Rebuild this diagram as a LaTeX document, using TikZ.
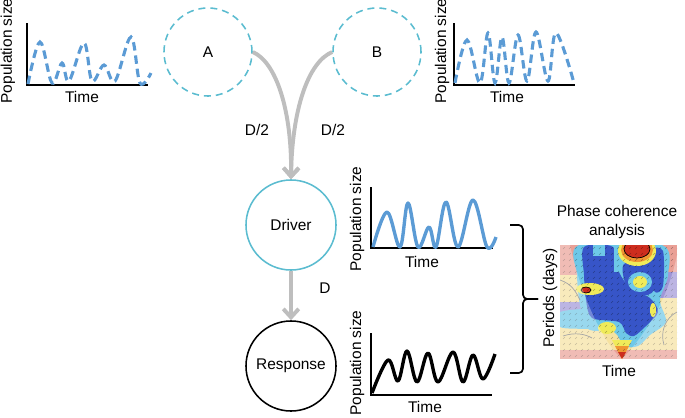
\documentclass[tikz,border=0pt]{standalone}
\usepackage{fontspec}
\setmainfont{Liberation Sans}
\usetikzlibrary{arrows.meta,positioning,calc}

\definecolor{ringblue}{RGB}{91,188,208}
\definecolor{curveblue}{RGB}{91,155,213}
\definecolor{linkgray}{RGB}{190,190,190}
\definecolor{hmsalmon}{RGB}{234,160,150}
\definecolor{hmcream}{RGB}{246,226,160}
\definecolor{hmlav}{RGB}{160,150,215}
\definecolor{hmcyan}{RGB}{110,200,232}
\definecolor{hmblue}{RGB}{55,85,200}
\definecolor{hmred}{RGB}{205,45,30}
\definecolor{hmorange}{RGB}{240,150,50}
\definecolor{hmyellow}{RGB}{240,235,90}

\begin{document}
\begin{tikzpicture}[x=0.025cm,y=-0.025cm,
  font=\fontsize{11}{13.5}\selectfont,
  patch/.style={circle,draw=ringblue,line width=1.1pt,minimum size=2.2cm,dash pattern=on 5pt off 3.5pt},
  species/.style={circle,line width=1.1pt,minimum size=2.25cm},
  link/.style={draw=linkgray,line width=2.8pt,-{Straight Barb[length=6pt,width=11pt]}},
  axisline/.style={draw=black,line width=1.4pt},
  dashcurve/.style={draw=curveblue,line width=2.2pt,dash pattern=on 6pt off 3.5pt},
  solidcurve/.style={line width=2.4pt,line join=round}]
\useasboundingbox (0,0) rectangle (685,417);

% patches and species
\node[patch] (A) at (208,52) {A};
\node[patch] (B) at (377,52) {B};
\node[species,draw=ringblue] (Driver) at (291,225) {Driver};
\node[species,draw=black] (Response) at (291,366) {Response};

% dispersal
\draw[link] (A.east) .. controls (276,62) and (292,110) .. (Driver.north);
\draw[link] (B.west) .. controls (308,62) and (292,110) .. (Driver.north);
\draw[link] (Driver) -- (Response);
\node (dA) at (257,130) {D/2};
\node (dB) at (333,130) {D/2};
\node (dD) at (325,288) {D};

% patch A dynamics
\draw[axisline] (27,23) -- (27,85) -- (148,85);
\draw[dashcurve] plot[smooth,tension=0.6] coordinates {(28,84) (40,42) (52,83) (62,63) (69,81) (84,43) (92,81) (104,65) (115,81) (131,37) (140,83) (151,73)};
\node (tA) at (82,97) {Time};
\node[rotate=90] (pA) at (8,51) {Population size};

% patch B dynamics
\draw[axisline] (454,23) -- (454,85) -- (575,85);
\draw[dashcurve] plot[smooth,tension=0.6] coordinates {(455,83) (467,40) (480,83) (488,33) (495,83) (502,37) (509,83) (518,35) (527,81) (536,32) (548,81) (556,33) (574,83)};
\node (tB) at (507,97) {Time};
\node[rotate=90] (pB) at (442,51) {Population size};

% driver dynamics
\draw[axisline] (371,187) -- (371,248) -- (493,248);
\draw[solidcurve,curveblue] plot[smooth,tension=0.6] coordinates {(373,247) (387,212) (400,247) (408,203) (418,247) (429,227) (436,247) (446,202) (458,247) (473,200) (487,247) (496,237)};
\node (tD) at (422,262) {Time};
\node[rotate=90] (pD) at (357,219) {Population size};

% response dynamics
\draw[axisline] (371,333) -- (371,395) -- (492,395);
\draw[solidcurve,black] plot[smooth,tension=0.6] coordinates {(372,393) (388,360) (398,381) (407,351) (417,382) (428,353) (438,382) (453,352) (463,382) (473,355) (483,379) (495,354)};
\node (tR) at (425,407) {Time};
\node[rotate=90] (pR) at (357,363) {Population size};

% bracket
\coordinate (braceTop) at (510,225);
\coordinate (braceBot) at (510,373);
\coordinate (braceTip) at (538,299);
\draw[line width=1.2pt,rounded corners=3pt] (braceTop) -| (523,299) -- (braceTip);
\draw[line width=1.2pt,rounded corners=3pt] (braceBot) -| (523,299) -- (braceTip);

% wavelet phase coherence
\begin{scope}
\clip (560,245) rectangle (677,359);
\fill[hmsalmon] (560,245) rectangle (677,359);
\fill[hmcream] (560,275) rectangle (677,350);
\fill[hmlav] (560,302) rectangle (595,312);
\fill[hmlav] (650,272) rectangle (677,298);
\fill[hmcyan] plot[smooth cycle] coordinates {(560,312) (600,309) (630,318) (625,331) (590,329) (560,327)};
\fill[hmcyan] plot[smooth cycle] coordinates {(579,245) (662,245) (668,275) (660,300) (666,322) (650,335) (638,346) (624,346) (614,332) (588,329) (580,305) (577,275)};
\fill[hmblue] plot[smooth cycle] coordinates {(584,247) (613,247) (619,272) (632,290) (650,298) (658,312) (646,326) (634,336) (626,333) (619,322) (592,318) (586,300) (584,275)};
\fill[hmblue] plot[smooth cycle] coordinates {(651,250) (663,251) (663,286) (655,292) (649,272)};
\fill[hmblue] plot[smooth cycle] coordinates {(624,264) (650,264) (654,290) (640,296) (626,285)};
\fill[hmcyan] (593,245) rectangle (605,256);
\fill[hmcyan] (614,245) rectangle (622,272);
\fill[hmcyan] (640,282) ellipse [x radius=12,y radius=10];
\fill[hmyellow] (640,282) ellipse [x radius=7,y radius=6];
\fill[hmyellow] (637,251) ellipse [x radius=19,y radius=15];
\fill[hmorange] (637,250) ellipse [x radius=16,y radius=12];
\fill[hmred,draw=black,line width=0.5pt] (637,249) ellipse [x radius=13,y radius=9];
\fill[hmyellow] (590,289) ellipse [x radius=14,y radius=6];
\fill[hmred,draw=black,line width=0.5pt] (586,290) ellipse [x radius=5,y radius=3];
\fill[hmyellow] (607,328) ellipse [x radius=9,y radius=6];
\fill[hmyellow] (653,310) ellipse [x radius=3,y radius=7];
\fill[hmsalmon] (560,350) rectangle (677,359);
\fill[hmyellow] (612,340) -- (632,340) -- (622,359) -- cycle;
\fill[hmorange] (615,346) -- (629,346) -- (622,359) -- cycle;
\fill[hmred] (618,352) -- (626,352) -- (622,359) -- cycle;
\draw[gray,line width=0.5pt] (563,336) .. controls (575,332) and (585,334) .. (592,338);
\draw[gray,line width=0.5pt] (560,280) .. controls (572,284) and (576,292) .. (580,300);
\draw[gray,line width=0.5pt] (677,312) .. controls (665,318) and (660,332) .. (664,345);
\foreach \i in {0,...,19}
  \foreach \j in {0,...,18}
    \draw[black,opacity=0.3,line width=0.3pt] (563+\i*6,249+\j*6) -- ++(2,-2);
\fill[white,opacity=0.3] (560,245) -- (570,245) .. controls (582,300) and (605,345) .. (622,359) -- (560,359) -- cycle;
\fill[white,opacity=0.3] (622,359) .. controls (645,335) and (668,300) .. (677,255) -- (677,359) -- cycle;
\end{scope}
\node[align=center] (hmTitle) at (617,222) {Phase coherence\\analysis};
\node[rotate=90] (hmY) at (550,298) {Periods (days)};
\node (hmX) at (619,371) {Time};
\end{tikzpicture}
\end{document}
